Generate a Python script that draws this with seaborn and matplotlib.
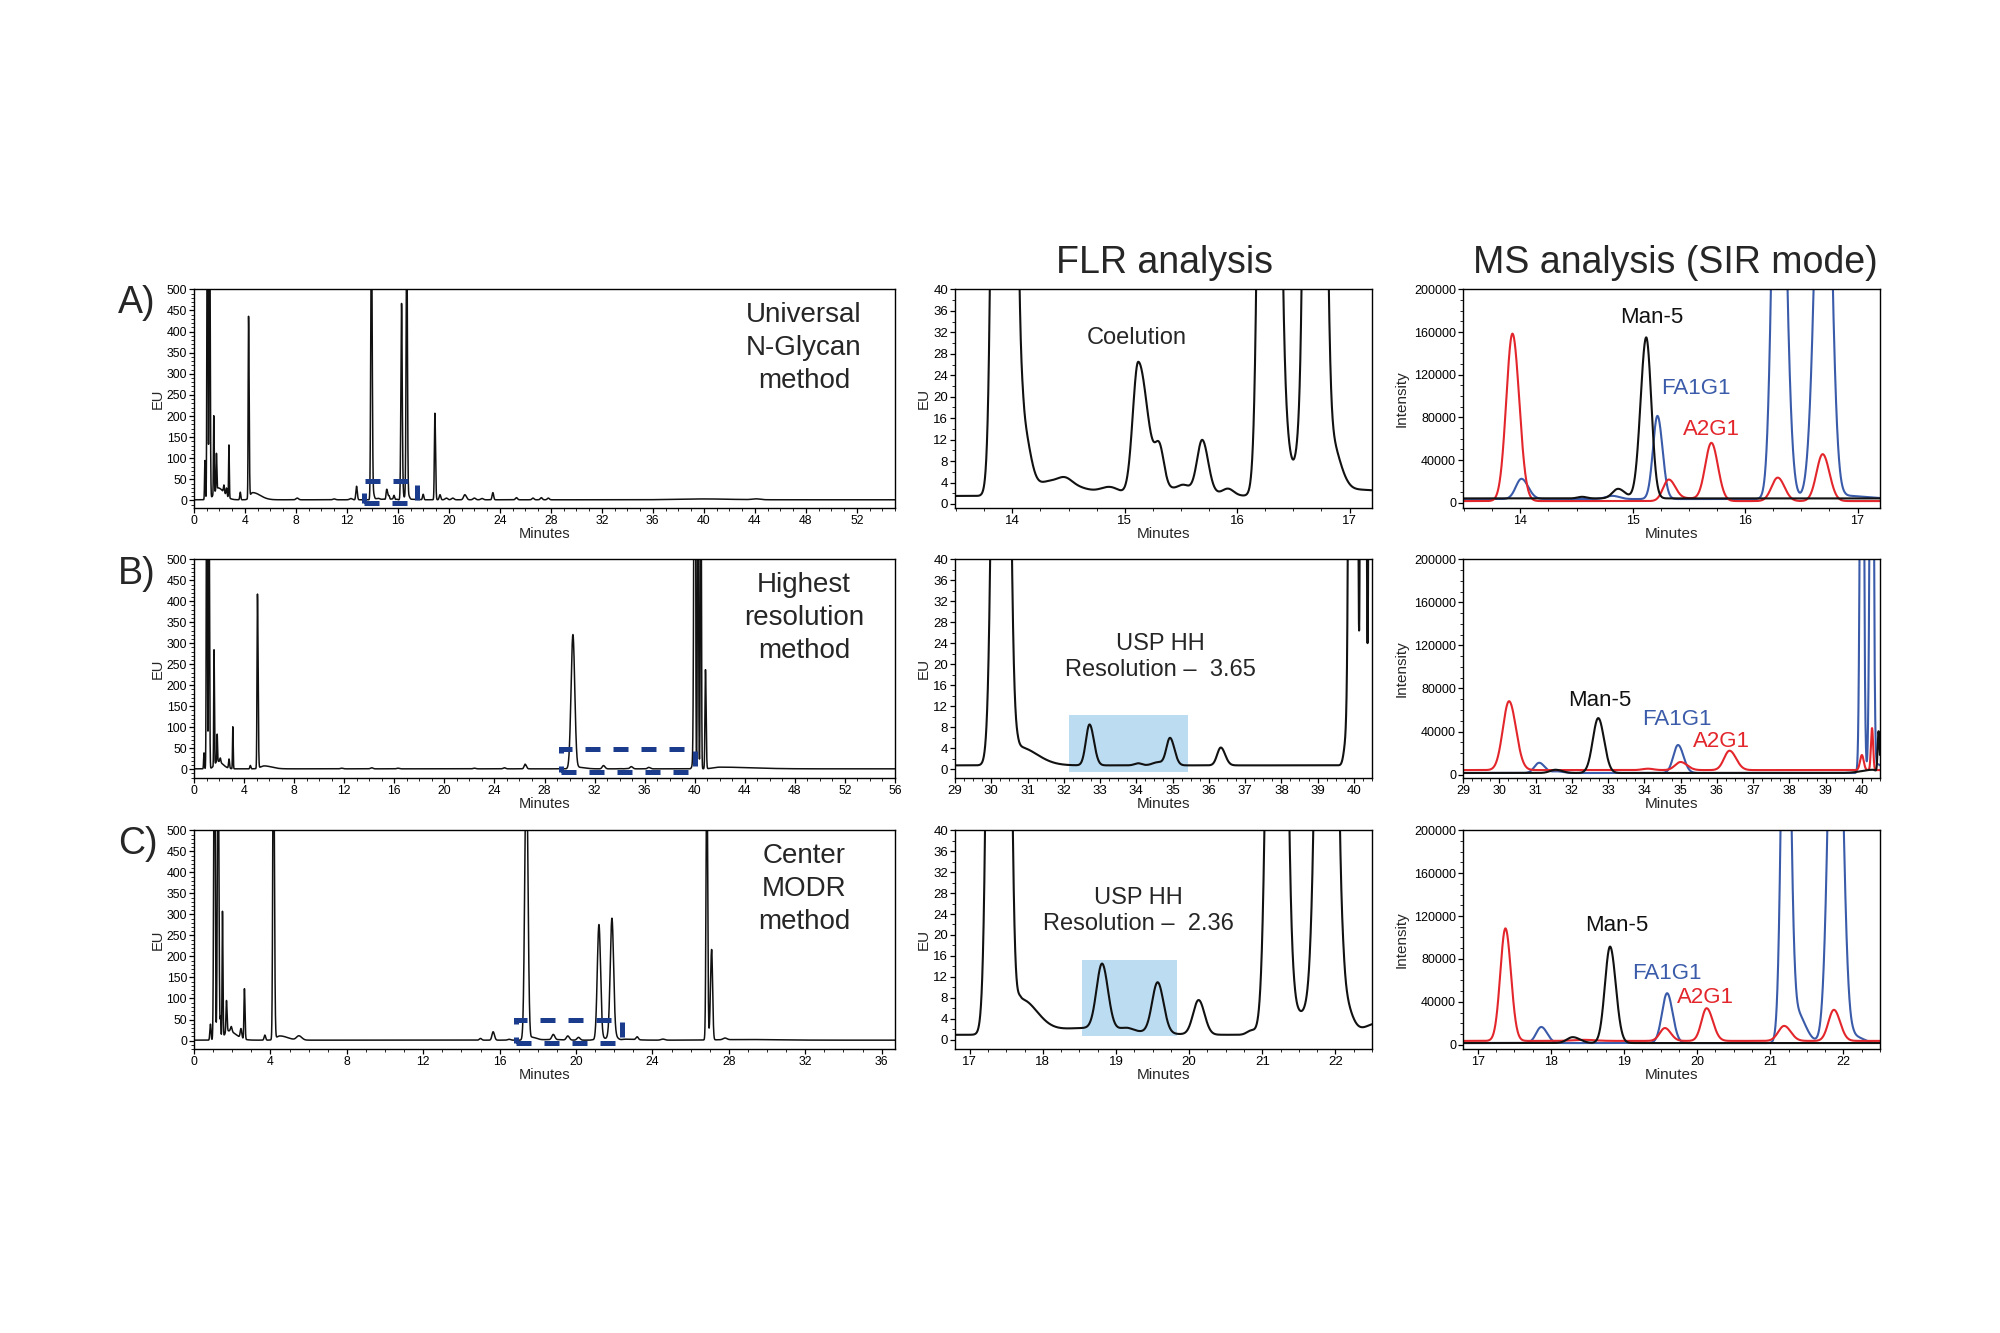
import numpy as np
import pandas as pd
import matplotlib
matplotlib.use("Agg")
import matplotlib.pyplot as plt
import seaborn as sns
from matplotlib.patches import Rectangle
from matplotlib.ticker import MultipleLocator, FuncFormatter

# ---------------- text ----------------
row_letters = ["A)", "B)", "C)"]
method_names = ["Universal\nN-Glycan\nmethod", "Highest\nresolution\nmethod", "Center\nMODR\nmethod"]
flr_title = "FLR analysis"
ms_title = "MS analysis (SIR mode)"
flr_notes = ["Coelution", "USP HH\nResolution \u2013  3.65", "USP HH\nResolution \u2013  2.36"]
glycan_names = ["Man-5", "FA1G1", "A2G1"]

# ---------------- data ----------------
run_end = [55.0, 56.0, 36.7]                       # minutes shown in full chromatogram
zoom_windows = [(13.49, 17.2), (29.0, 40.5), (16.8, 22.5)]
dashed_boxes = [(13.3, -5.5, 17.47, 45.5), (29.35, -8.0, 40.05, 47.5), (16.84, -6.3, 22.4, 49.0)]
usp_boxes = [None, (32.15, -0.5, 35.42, 10.4), (18.54, 0.6, 19.83, 15.3)]

# FLR peak tables: (retention time [min], height [EU], sigma left, sigma right)
flr_baseline = [1.5, 0.7, 0.9]
flr_peaks_a = [
    (0.86, 93, 0.03, 0.03), (1.05, 900, 0.035, 0.04), (1.22, 800, 0.035, 0.045),
    (1.55, 185, 0.025, 0.03), (1.76, 85, 0.025, 0.03), (1.9, 28, 0.3, 0.45),
    (2.35, 18, 0.04, 0.04), (2.55, 18, 0.04, 0.04), (2.74, 125, 0.025, 0.03),
    (3.63, 18, 0.04, 0.04), (4.28, 430, 0.03, 0.045), (4.6, 17, 0.2, 0.6),
    (8.1, 4, 0.1, 0.1), (11.0, 2, 0.1, 0.1), (12.3, 3, 0.1, 0.1), (12.75, 32, 0.05, 0.06),
    (13.92, 700, 0.05, 0.0585), (14.1, 11, 0.03, 0.06), (14.35, 2.8, 0.15, 0.25),
    (14.47, 1.0, 0.06, 0.06), (14.87, 1.3, 0.08, 0.08), (15.12, 24.5, 0.048, 0.083),
    (15.31, 7, 0.04, 0.04), (15.5, 1.5, 0.25, 0.2), (15.52, 0.6, 0.04, 0.04),
    (15.69, 9.5, 0.045, 0.052), (15.92, 1.2, 0.05, 0.05),
    (16.285, 465, 0.052, 0.052), (16.40, 14, 0.04, 0.06), (16.58, 11, 0.05, 0.03),
    (16.69, 700, 0.046, 0.05), (16.83, 10, 0.03, 0.08), (17.0, 1.2, 0.1, 0.4),
    (17.98, 13, 0.05, 0.05), (18.9, 205, 0.04, 0.05), (19.3, 12, 0.06, 0.06),
    (19.8, 4, 0.1, 0.1), (20.3, 4, 0.1, 0.1), (21.25, 12, 0.1, 0.12), (22.0, 4, 0.1, 0.1),
    (22.6, 3, 0.1, 0.1), (23.45, 17, 0.06, 0.06), (25.3, 5, 0.08, 0.08),
    (26.6, 4, 0.08, 0.08), (27.25, 5, 0.08, 0.08), (27.8, 4, 0.08, 0.08),
    (40.0, 2, 2.0, 2.0), (44.1, 2, 0.3, 0.3),
]
flr_peaks_b = [
    (0.8, 38, 0.03, 0.03), (1.02, 900, 0.035, 0.04), (1.2, 700, 0.035, 0.04),
    (1.6, 275, 0.025, 0.03), (1.85, 65, 0.025, 0.03), (1.9, 18, 0.25, 0.4),
    (2.1, 10, 0.04, 0.04), (2.8, 22, 0.04, 0.04), (3.1, 100, 0.025, 0.03),
    (4.5, 8, 0.04, 0.04), (5.07, 415, 0.035, 0.05), (5.6, 7, 0.3, 0.6),
    (11.8, 1.5, 0.1, 0.1), (14.2, 2.5, 0.1, 0.1), (16.3, 1.5, 0.1, 0.1),
    (22.4, 1.5, 0.1, 0.1), (24.8, 2.5, 0.1, 0.1), (26.45, 11, 0.08, 0.1),
    (30.27, 320, 0.147, 0.147), (30.75, 3.5, 0.1, 0.5),
    (32.71, 7.8, 0.1, 0.12), (34.05, 0.4, 0.1, 0.1), (34.6, 0.6, 0.15, 0.15),
    (34.93, 5.2, 0.1, 0.12), (36.33, 3.4, 0.1, 0.12), (39.78, 4, 0.06, 0.03),
    (40.02, 1500, 0.07, 0.04), (40.26, 900, 0.04, 0.04), (40.49, 900, 0.038, 0.04),
    (40.86, 236, 0.04, 0.05), (42.0, 4, 0.5, 2.5),
]
flr_peaks_c = [
    (0.86, 38, 0.03, 0.03), (1.07, 900, 0.035, 0.035), (1.26, 800, 0.035, 0.04),
    (1.39, 50, 0.02, 0.02), (1.49, 300, 0.02, 0.025), (1.7, 75, 0.025, 0.03),
    (1.8, 22, 0.2, 0.4), (1.95, 12, 0.04, 0.04), (2.46, 22, 0.04, 0.04),
    (2.64, 120, 0.025, 0.03), (3.71, 12, 0.04, 0.04), (4.16, 800, 0.035, 0.045),
    (4.5, 10, 0.2, 0.4), (5.49, 10, 0.12, 0.15), (15.0, 4, 0.06, 0.06),
    (15.66, 20, 0.06, 0.07), (16.5, 2, 0.08, 0.08),
    (17.40, 700, 0.079, 0.079), (17.7, 6.5, 0.06, 0.22), (18.6, 1.3, 0.5, 0.6),
    (18.81, 12.4, 0.075, 0.08), (19.15, 0.5, 0.08, 0.08), (19.57, 9.7, 0.075, 0.08),
    (20.13, 6.6, 0.075, 0.08), (20.85, 0.8, 0.06, 0.06),
    (21.2, 275, 0.0865, 0.0865), (21.45, 4, 0.05, 0.1), (21.65, 4, 0.08, 0.04),
    (21.88, 290, 0.09, 0.09), (22.12, 6, 0.04, 0.1), (22.6, 2.3, 0.2, 0.5),
    (23.2, 7, 0.06, 0.06), (24.55, 2.5, 0.1, 0.1), (26.85, 700, 0.04, 0.04),
    (27.1, 215, 0.06, 0.05), (27.8, 4, 0.1, 0.1), (29.0, 1.5, 1.5, 1.5),
]
flr_peaks = [flr_peaks_a, flr_peaks_b, flr_peaks_c]

# MS (SIR) peak tables: (retention time, intensity, sigma left, sigma right)
man5_baseline = [4000, 1500, 1500]
man5_peaks = [
    [(14.55, 1500, 0.04, 0.04), (14.87, 9000, 0.05, 0.06), (15.12, 151000, 0.05, 0.045)],
    [(31.55, 3000, 0.15, 0.18), (32.73, 51000, 0.15, 0.16), (40.3, 3000, 0.3, 0.1),
     (40.46, 38000, 0.025, 0.03)],
    [(18.3, 5500, 0.08, 0.1), (18.81, 90000, 0.07, 0.078)],
]
fa1g1_baseline = [3400, 1500, 1500]
fa1g1_peaks = [
    [(14.01, 19000, 0.05, 0.06), (14.82, 3000, 0.06, 0.06), (15.22, 78000, 0.04, 0.045),
     (16.295, 500000, 0.048, 0.06), (16.70, 500000, 0.0665, 0.059), (16.9, 3000, 0.05, 0.2)],
    [(31.1, 9500, 0.13, 0.15), (31.6, 1500, 0.15, 0.15), (34.93, 26000, 0.13, 0.15),
     (40.0, 600000, 0.044, 0.044), (40.27, 600000, 0.044, 0.044), (40.45, 8000, 0.05, 0.1)],
    [(17.87, 15000, 0.07, 0.08), (19.59, 46500, 0.07, 0.075), (21.215, 500000, 0.055, 0.055),
     (21.35, 30000, 0.05, 0.12), (21.89, 500000, 0.081, 0.085), (22.15, 6000, 0.05, 0.12)],
]
a2g1_baseline = [1500, 4200, 3500]
a2g1_peaks = [
    [(13.93, 157000, 0.055, 0.06), (15.32, 20000, 0.05, 0.06), (15.5, 2500, 0.08, 0.08),
     (15.70, 54500, 0.055, 0.058), (16.29, 22000, 0.055, 0.06), (16.69, 44000, 0.055, 0.06)],
    [(30.27, 64000, 0.17, 0.19), (34.1, 1300, 0.15, 0.15), (35.0, 7500, 0.15, 0.18),
     (36.35, 18000, 0.15, 0.18), (40.0, 14000, 0.05, 0.05), (40.28, 39000, 0.03, 0.03)],
    [(17.38, 105000, 0.07, 0.075), (18.45, 1000, 0.15, 0.15), (19.56, 12000, 0.07, 0.08),
     (20.13, 30500, 0.07, 0.085), (21.19, 14000, 0.08, 0.09), (21.87, 29000, 0.075, 0.085)],
]

# ---------------- layout / style ----------------
RED = "#E3262B"
BLUE = "#3A5BA9"
BLACK = "#111111"
NAVY = "#1B3C8C"
SKY = "#BCDCF1"

sns.set_theme(style="ticks")
plt.rcParams["font.family"] = ["Liberation Sans", "DejaVu Sans"]
plt.rcParams["axes.linewidth"] = 1.0
plt.rcParams["xtick.direction"] = "out"
plt.rcParams["ytick.direction"] = "out"

fig = plt.figure(figsize=(20, 13.33), dpi=100)
col_x = [(0.097, 0.3505), (0.4775, 0.2085), (0.7315, 0.2085)]
row_y = [0.6189, 0.4164, 0.2131]
row_h = 0.164

left_ylim = [(-18, 500), (-21, 500), (-20, 500)]
mid_ylim = [(-0.75, 40), (-1.7, 40), (-1.8, 40)]
right_ylim = [(-5000, 200000), (-3100, 200000), (-4000, 200000)]

note_pos = [(15.11, 31.0), (34.67, 21.3), (19.31, 24.6)]
label_pos = [
    [(15.17, 173500), (15.56, 107000), (15.70, 69000)],
    [(32.76, 69000), (34.91, 51300), (36.14, 31100)],
    [(18.90, 111000), (19.59, 66500), (20.12, 43750)],
]
letter_baseline_px = [313, 584, 854]


def trace(x, base, peaks):
    y = np.full_like(x, float(base))
    for rt, h, sl, sr in peaks:
        s = np.where(x < rt, sl, sr)
        y = y + h * np.exp(-0.5 * ((x - rt) / s) ** 2)
    return y


def style_axes(ax, label_size, tick_size):
    for sp in ax.spines.values():
        sp.set_visible(True)
        sp.set_linewidth(1.0)
        sp.set_color("black")
    ax.tick_params(axis="both", which="major", length=3.5, width=0.9, labelsize=tick_size,
                   pad=1.5, colors="black")
    ax.tick_params(axis="both", which="minor", length=2.0, width=0.7)
    ax.tick_params(top=False, right=False, which="both")
    ax.set_xlabel("Minutes", fontsize=label_size, labelpad=0)


for r in range(3):
    # ---- full chromatogram ----
    ax = fig.add_axes([col_x[0][0], row_y[r], col_x[0][1], row_h])
    x = np.arange(0.0, run_end[r], 0.002)
    df = pd.DataFrame({"Minutes": x, "EU": trace(x, flr_baseline[r], flr_peaks[r])})
    sns.lineplot(data=df, x="Minutes", y="EU", ax=ax, color=BLACK, linewidth=1.1,
                 estimator=None, sort=False)
    x0, y0, x1, y1 = dashed_boxes[r]
    ax.add_patch(Rectangle((x0, y0), x1 - x0, y1 - y0, fill=False, edgecolor=NAVY,
                           linewidth=3.6, linestyle=(0, (3.0, 2.6)), zorder=5))
    ax.set_xlim(0, run_end[r])
    ax.set_ylim(*left_ylim[r])
    ax.xaxis.set_major_locator(MultipleLocator(4))
    ax.xaxis.set_minor_locator(MultipleLocator(1))
    ax.yaxis.set_major_locator(MultipleLocator(50))
    ax.yaxis.set_minor_locator(MultipleLocator(10))
    style_axes(ax, 10.5, 8.8)
    ax.set_ylabel("EU", fontsize=10.5, labelpad=1)
    ax.text(0.87, 0.73, method_names[r], transform=ax.transAxes, ha="center", va="center",
            fontsize=20, linespacing=1.35)
    fig.text(118 / 2000, 1 - letter_baseline_px[r] / 1333, row_letters[r], ha="left",
             va="baseline", fontsize=27)

    # ---- FLR zoom ----
    ax = fig.add_axes([col_x[1][0], row_y[r], col_x[1][1], row_h])
    lo, hi = zoom_windows[r]
    x = np.arange(lo, hi, 0.001)
    df = pd.DataFrame({"Minutes": x, "EU": trace(x, flr_baseline[r], flr_peaks[r])})
    if usp_boxes[r] is not None:
        bx0, by0, bx1, by1 = usp_boxes[r]
        ax.add_patch(Rectangle((bx0, by0), bx1 - bx0, by1 - by0, facecolor=SKY,
                               edgecolor="none", zorder=0))
    sns.lineplot(data=df, x="Minutes", y="EU", ax=ax, color=BLACK, linewidth=1.5,
                 estimator=None, sort=False)
    ax.set_xlim(lo, hi)
    ax.set_ylim(*mid_ylim[r])
    ax.xaxis.set_major_locator(MultipleLocator(1))
    ax.xaxis.set_minor_locator(MultipleLocator(0.25))
    ax.yaxis.set_major_locator(MultipleLocator(4))
    ax.yaxis.set_minor_locator(MultipleLocator(2))
    style_axes(ax, 11, 9.5)
    ax.set_ylabel("EU", fontsize=11, labelpad=2)
    ax.text(note_pos[r][0], note_pos[r][1], flr_notes[r], ha="center", va="center",
            fontsize=17, linespacing=1.25)

    # ---- MS (SIR) ----
    ax = fig.add_axes([col_x[2][0], row_y[r], col_x[2][1], row_h])
    x = np.arange(lo, hi, 0.001)
    for base, peaks, col in [(fa1g1_baseline[r], fa1g1_peaks[r], BLUE),
                             (a2g1_baseline[r], a2g1_peaks[r], RED),
                             (man5_baseline[r], man5_peaks[r], BLACK)]:
        df = pd.DataFrame({"Minutes": x, "Intensity": trace(x, base, peaks)})
        sns.lineplot(data=df, x="Minutes", y="Intensity", ax=ax, color=col, linewidth=1.5,
                     estimator=None, sort=False)
    ax.set_xlim(lo, hi)
    ax.set_ylim(*right_ylim[r])
    ax.xaxis.set_major_locator(MultipleLocator(1))
    ax.xaxis.set_minor_locator(MultipleLocator(0.25))
    ax.yaxis.set_major_locator(MultipleLocator(40000))
    ax.yaxis.set_minor_locator(MultipleLocator(10000))
    ax.yaxis.set_major_formatter(FuncFormatter(lambda v, p: f"{int(round(v))}"))
    style_axes(ax, 11, 9)
    ax.set_ylabel("Intensity", fontsize=11, labelpad=4)
    for (lx, ly), name, col in zip(label_pos[r], glycan_names, [BLACK, BLUE, RED]):
        ax.text(lx, ly, name, ha="center", va="center", fontsize=16, color=col)

fig.text(0.5825, 1 - 273 / 1333, flr_title, ha="center", va="baseline", fontsize=27)
fig.text(0.8375, 1 - 273 / 1333, ms_title, ha="center", va="baseline", fontsize=27)

fig.savefig("out.png", dpi=100, facecolor="white")
